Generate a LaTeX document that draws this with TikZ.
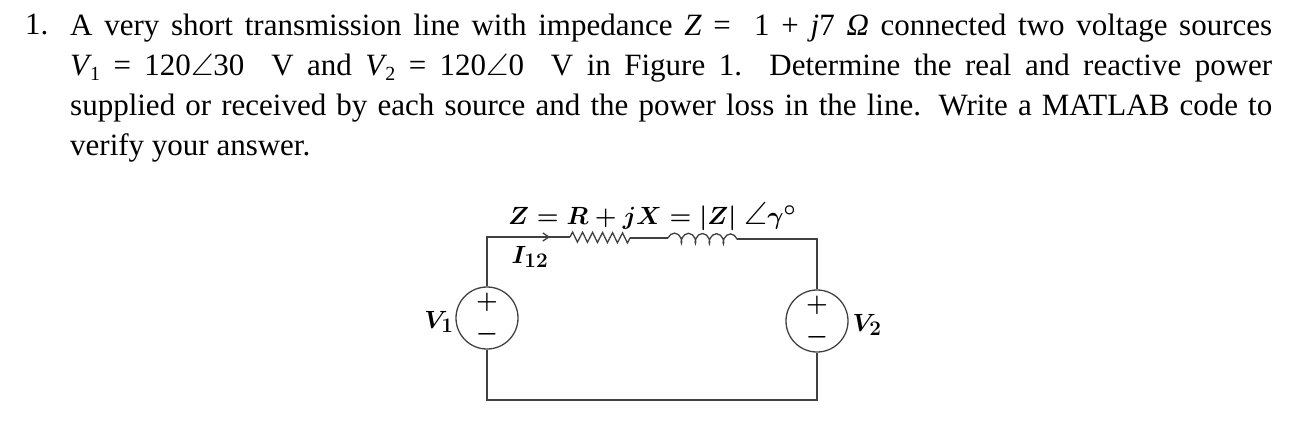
\documentclass[tikz,border=0pt]{standalone}
\usepackage{amssymb}
\usepackage{fontspec}
\setmainfont{Liberation Serif}
\usetikzlibrary{decorations.pathmorphing,arrows.meta}
\newcommand{\vsub}[1]{{\itshape V}\kern1pt\raisebox{-5pt}{\fontsize{20}{20}\selectfont #1}}
\tikzset{wire/.style={line width=1.3pt,draw=black!75},
 src/.style={circle,draw=black!75,line width=1.3pt,minimum size=62pt,inner sep=0pt},
 lab/.style={font=\fontsize{32}{34}\selectfont\boldmath}}
\begin{document}
\begin{tikzpicture}[x=1pt,y=-1pt]
\useasboundingbox (0,0) rectangle (1312,434);
\node[anchor=north west,inner sep=0pt] (num) at (25,14) {\fontsize{31}{38}\selectfont 1.};
\node[anchor=north west,inner sep=0pt,text width=1202pt,align=justify] (txt) at (70,14)
 {\fontsize{31}{40}\selectfont A very short transmission line with impedance {\itshape Z} = \ 1 + {\itshape j}7 {\itshape Ω} connected two voltage sources\linebreak
 \vsub{1} = 120$\angle$30 \ V and \vsub{2} = 120$\angle$0 \ V in Figure 1. Determine the real and reactive power\linebreak
 supplied or received by each source and the power loss in the line. Write a MATLAB code to\linebreak
 verify your answer.\par};
\node[src] (v1) at (487,318) {};
\node[src] (v2) at (817,321) {};
\node[lab] at (487,302) {$+$};
\node[lab] at (487,334) {$-$};
\node[lab] at (817,305) {$+$};
\node[lab] at (817,337) {$-$};
\coordinate (tl) at (487,237);
\coordinate (tr) at (817,239);
\coordinate (bl) at (487,400);
\coordinate (br) at (817,400);
\coordinate (r1) at (570,237);
\coordinate (r2) at (630,238);
\coordinate (l1) at (668,238);
\coordinate (l2) at (737,239);
\draw[wire] (v1.north) -- (tl) -- (r1);
\draw[wire,decorate,decoration={zigzag,segment length=10pt,amplitude=5pt}] (r1) -- (r2);
\draw[wire] (r2) -- (l1);
\draw[wire,decorate,decoration={coil,aspect=0.6,segment length=14pt,amplitude=5pt}] (l1) -- (l2);
\draw[wire] (l2) -- (tr) -- (v2.north);
\draw[wire] (v1.south) -- (bl) -- (br) -- (v2.south);
\draw[wire,-{Straight Barb[length=6pt,width=8pt]}] (tl) -- (550,237);
\node[lab,anchor=south] (zl) at (652,234) {$Z=R+jX=|Z|\;\angle\gamma^\circ$};
\node[lab] (il) at (530,257) {$I_{12}$};
\node[lab,anchor=east] (v1l) at (457,322) {$V_1$};
\node[lab,anchor=west] (v2l) at (849,325) {$V_2$};
\end{tikzpicture}
\end{document}
